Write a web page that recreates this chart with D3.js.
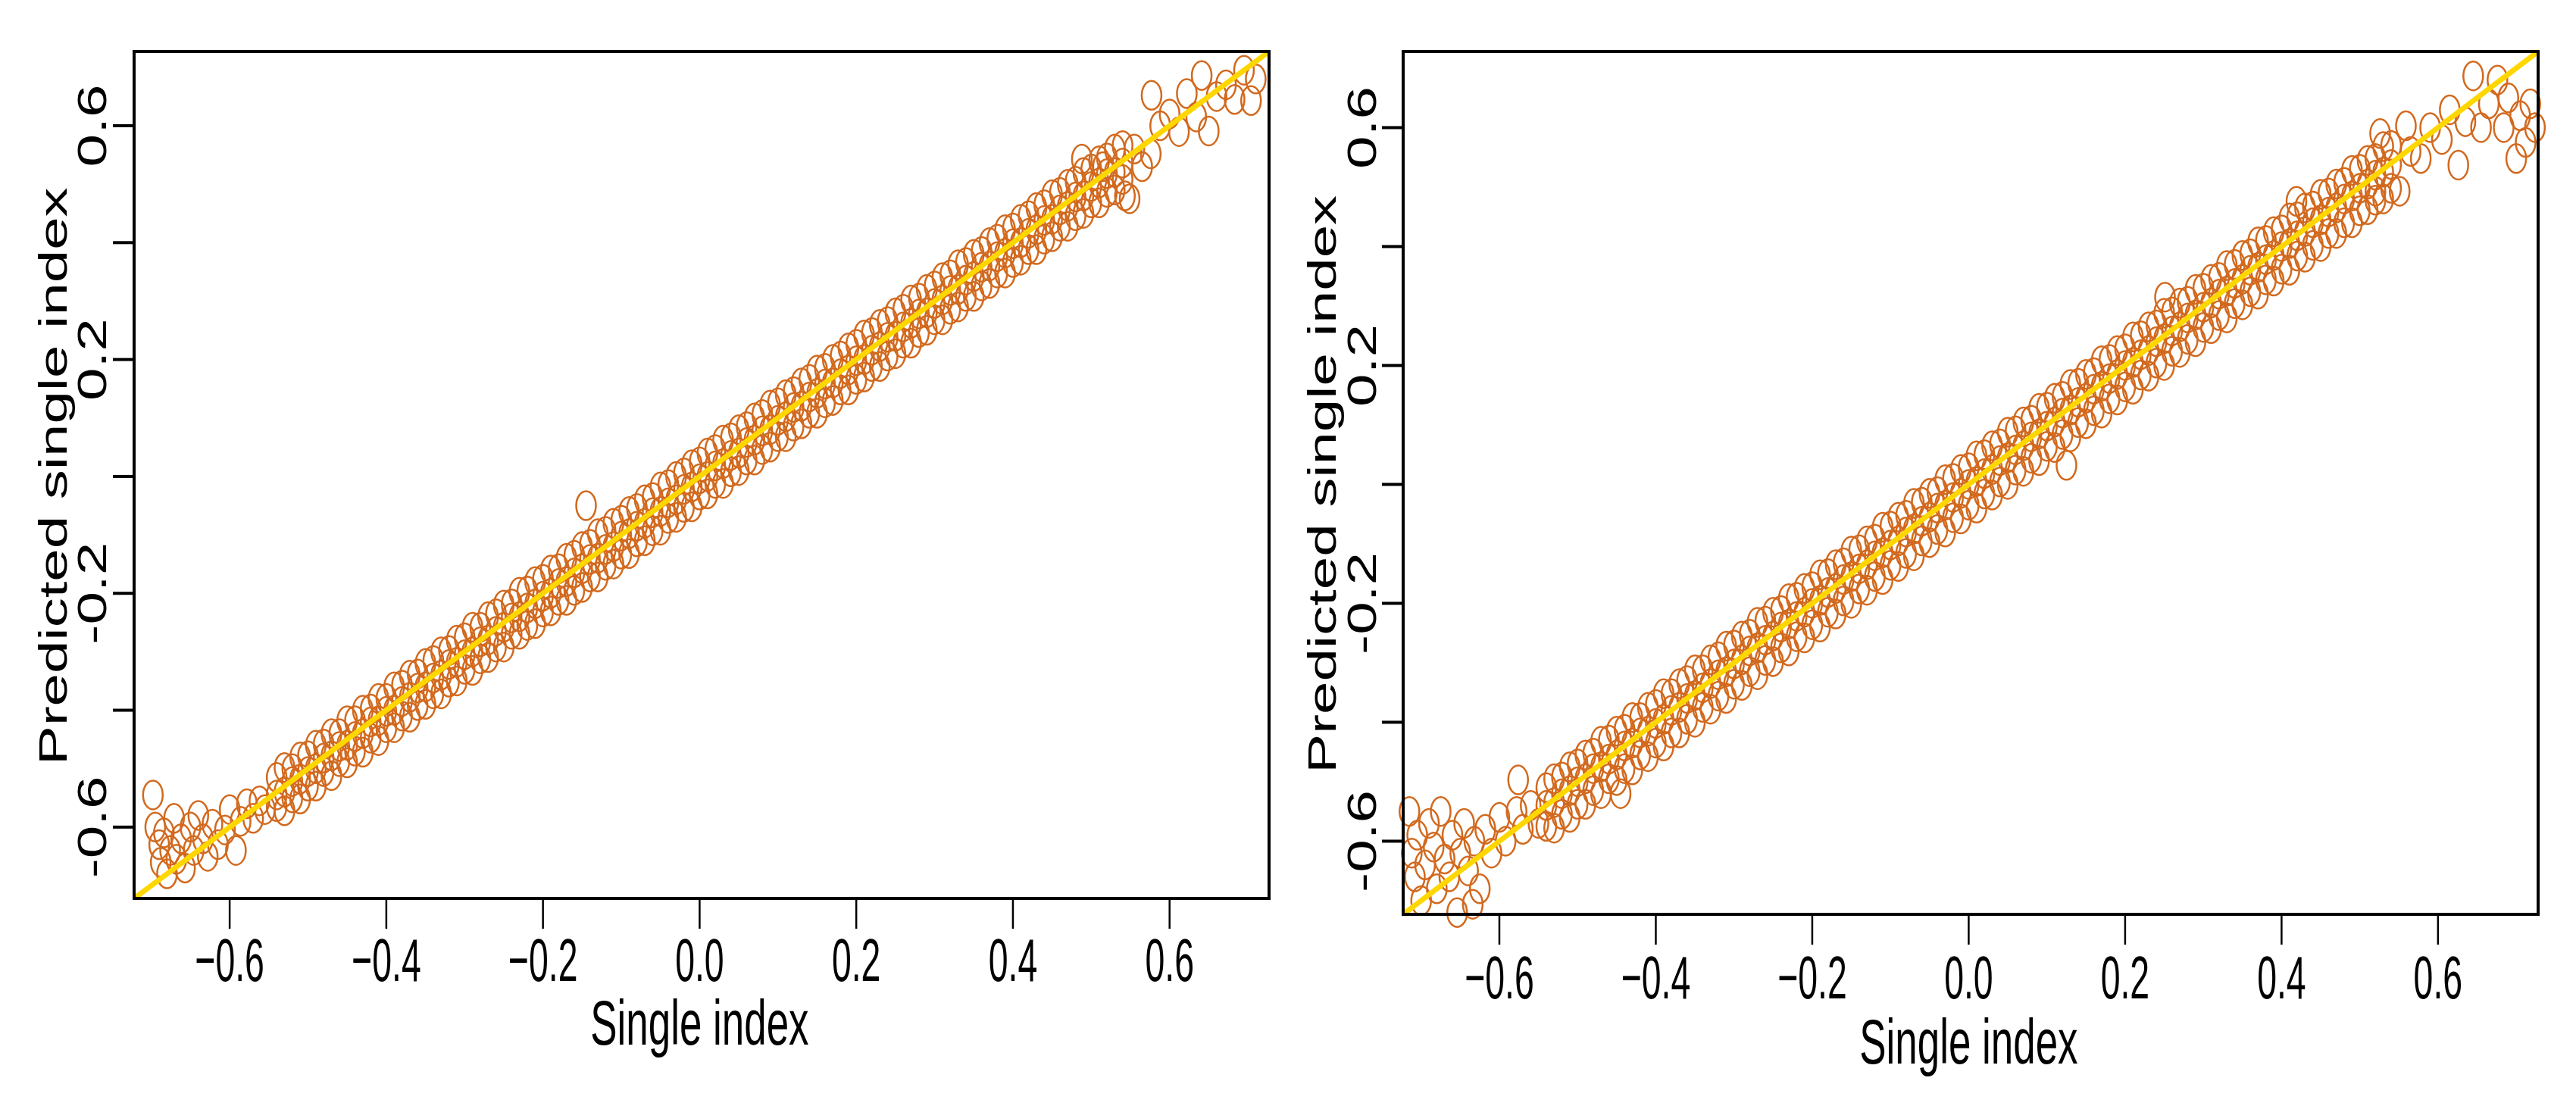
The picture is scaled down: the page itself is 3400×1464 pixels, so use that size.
<!DOCTYPE html>
<html>
<head>
<meta charset="utf-8">
<script src="https://cdnjs.cloudflare.com/ajax/libs/d3/7.8.5/d3.min.js"></script>
<style>
body { margin: 0; background: white; }
text { font-family: "Liberation Sans", Arial, sans-serif; fill: black; }
</style>
</head>
<body>
<div id="canvas"></div>
<script>
var width = 3400;
var height = 1464;

var xTicks = [-0.6, -0.4, -0.2, 0.0, 0.2, 0.4, 0.6];
var yTicks = [-0.6, -0.4, -0.2, 0.0, 0.2, 0.4, 0.6];
var yTickLabels = ['-0.6', '', '-0.2', '', '0.2', '', '0.6'];
var xLabel = 'Single index';
var yLabel = 'Predicted single index';

// middle band: [x, y1, y2, y3]
var leftBand = [
    [-0.54, -0.565, -0.545, -0.515], [-0.52, -0.550, -0.522, -0.500], [-0.50, -0.530, -0.505, -0.478],
    [-0.48, -0.505, -0.482, -0.458], [-0.46, -0.488, -0.462, -0.440], [-0.44, -0.470, -0.445, -0.418],
    [-0.42, -0.448, -0.420, -0.398], [-0.40, -0.430, -0.402, -0.380], [-0.38, -0.410, -0.385, -0.357],
    [-0.36, -0.392, -0.362, -0.338], [-0.34, -0.372, -0.345, -0.315], [-0.32, -0.352, -0.322, -0.298],
    [-0.30, -0.330, -0.305, -0.276], [-0.28, -0.312, -0.283, -0.258], [-0.26, -0.292, -0.265, -0.235],
    [-0.24, -0.270, -0.242, -0.218], [-0.22, -0.255, -0.225, -0.196], [-0.20, -0.232, -0.205, -0.176],
    [-0.18, -0.212, -0.183, -0.158], [-0.16, -0.195, -0.165, -0.135], [-0.14, -0.172, -0.142, -0.116],
    [-0.12, -0.152, -0.125, -0.094], [-0.10, -0.133, -0.102, -0.075], [-0.08, -0.112, -0.085, -0.055],
    [-0.06, -0.093, -0.062, -0.036], [-0.04, -0.072, -0.045, -0.014], [-0.02, -0.053, -0.022, 0.006],
    [0.00, -0.032, -0.004, 0.025], [0.02, -0.012, 0.018, 0.046], [0.04, 0.008, 0.036, 0.066],
    [0.06, 0.028, 0.058, 0.085], [0.08, 0.046, 0.078, 0.106], [0.10, 0.068, 0.096, 0.126],
    [0.12, 0.086, 0.118, 0.145], [0.14, 0.108, 0.136, 0.166], [0.16, 0.126, 0.158, 0.185],
    [0.18, 0.148, 0.176, 0.206], [0.20, 0.166, 0.198, 0.226], [0.22, 0.188, 0.216, 0.246],
    [0.24, 0.206, 0.238, 0.265], [0.26, 0.228, 0.256, 0.286], [0.28, 0.246, 0.278, 0.305],
    [0.30, 0.268, 0.296, 0.326], [0.32, 0.286, 0.318, 0.345], [0.34, 0.308, 0.336, 0.366],
    [0.36, 0.326, 0.358, 0.385], [0.38, 0.348, 0.376, 0.406], [0.40, 0.366, 0.398, 0.425],
    [0.42, 0.388, 0.416, 0.446], [0.44, 0.406, 0.438, 0.465], [0.46, 0.428, 0.456, 0.486],
    [0.48, 0.446, 0.478, 0.505], [0.50, 0.468, 0.496, 0.526], [0.52, 0.486, 0.518, 0.545],
    [0.54, 0.508, 0.536, 0.566]
];
var leftBand2 = [
    [-0.53, -0.572, -0.540, -0.498], [-0.51, -0.552, -0.518, -0.480], [-0.49, -0.530, -0.500, -0.460],
    [-0.47, -0.512, -0.478, -0.440], [-0.45, -0.490, -0.460, -0.418], [-0.43, -0.472, -0.440, -0.400],
    [-0.41, -0.452, -0.418, -0.380], [-0.39, -0.430, -0.400, -0.360], [-0.37, -0.412, -0.378, -0.340],
    [-0.35, -0.390, -0.360, -0.320], [-0.33, -0.372, -0.340, -0.300], [-0.31, -0.350, -0.318, -0.280],
    [-0.29, -0.332, -0.300, -0.258], [-0.27, -0.310, -0.280, -0.240], [-0.25, -0.292, -0.258, -0.220],
    [-0.23, -0.270, -0.240, -0.198], [-0.21, -0.252, -0.218, -0.180], [-0.19, -0.230, -0.200, -0.160],
    [-0.17, -0.212, -0.180, -0.140], [-0.15, -0.190, -0.158, -0.120], [-0.13, -0.172, -0.140, -0.098],
    [-0.11, -0.150, -0.120, -0.080], [-0.09, -0.132, -0.098, -0.060], [-0.07, -0.110, -0.080, -0.040],
    [-0.05, -0.092, -0.060, -0.018], [-0.03, -0.070, -0.040, 0.000], [-0.01, -0.052, -0.018, 0.020],
    [0.01, -0.030, 0.000, 0.040], [0.03, -0.012, 0.022, 0.062], [0.05, 0.010, 0.040, 0.080],
    [0.07, 0.028, 0.062, 0.100], [0.09, 0.050, 0.080, 0.122], [0.11, 0.068, 0.102, 0.140],
    [0.13, 0.090, 0.120, 0.160], [0.15, 0.108, 0.142, 0.182], [0.17, 0.130, 0.160, 0.200],
    [0.19, 0.148, 0.182, 0.220], [0.21, 0.170, 0.200, 0.242], [0.23, 0.188, 0.222, 0.260],
    [0.25, 0.210, 0.240, 0.280], [0.27, 0.228, 0.262, 0.302], [0.29, 0.250, 0.280, 0.320],
    [0.31, 0.268, 0.302, 0.340], [0.33, 0.290, 0.320, 0.362], [0.35, 0.308, 0.342, 0.380],
    [0.37, 0.330, 0.360, 0.400], [0.39, 0.348, 0.382, 0.422], [0.41, 0.370, 0.400, 0.440],
    [0.43, 0.388, 0.422, 0.460], [0.45, 0.410, 0.440, 0.482], [0.47, 0.428, 0.462, 0.500],
    [0.49, 0.450, 0.480, 0.520], [0.51, 0.468, 0.502, 0.540], [0.53, 0.490, 0.520, 0.560]
];
var leftEnds = [
    [-0.698, -0.545], [-0.695, -0.600], [-0.690, -0.630], [-0.688, -0.660], [-0.684, -0.610], [-0.680, -0.680],
    [-0.676, -0.640], [-0.671, -0.585], [-0.668, -0.655], [-0.662, -0.620], [-0.657, -0.670], [-0.650, -0.600],
    [-0.646, -0.640], [-0.640, -0.580], [-0.634, -0.620], [-0.628, -0.650], [-0.622, -0.595], [-0.615, -0.630],
    [-0.606, -0.605], [-0.600, -0.570], [-0.592, -0.640], [-0.586, -0.590], [-0.578, -0.560], [-0.570, -0.585],
    [-0.562, -0.555], [-0.555, -0.570], [-0.145, -0.050],
    [0.488, 0.543], [0.515, 0.530], [0.549, 0.475], [0.543, 0.480], [0.555, 0.560], [0.565, 0.530],
    [0.576, 0.552], [0.577, 0.652], [0.588, 0.600], [0.600, 0.620], [0.612, 0.590], [0.622, 0.655],
    [0.634, 0.615], [0.641, 0.686], [0.650, 0.591], [0.660, 0.650], [0.672, 0.670], [0.683, 0.645],
    [0.695, 0.695], [0.704, 0.643], [0.710, 0.680]
];

var rightBand = [
    [-0.54, -0.575, -0.540, -0.510], [-0.52, -0.555, -0.520, -0.492], [-0.50, -0.538, -0.500, -0.470],
    [-0.48, -0.515, -0.478, -0.452], [-0.46, -0.495, -0.462, -0.430], [-0.44, -0.478, -0.440, -0.412],
    [-0.42, -0.455, -0.418, -0.392], [-0.40, -0.435, -0.402, -0.370], [-0.38, -0.418, -0.380, -0.352],
    [-0.36, -0.395, -0.360, -0.330], [-0.34, -0.375, -0.342, -0.312], [-0.32, -0.356, -0.320, -0.290],
    [-0.30, -0.336, -0.302, -0.270], [-0.28, -0.315, -0.280, -0.252], [-0.26, -0.296, -0.262, -0.230],
    [-0.24, -0.275, -0.240, -0.212], [-0.22, -0.256, -0.222, -0.190], [-0.20, -0.236, -0.200, -0.172],
    [-0.18, -0.215, -0.182, -0.150], [-0.16, -0.196, -0.160, -0.132], [-0.14, -0.176, -0.142, -0.110],
    [-0.12, -0.155, -0.120, -0.092], [-0.10, -0.136, -0.102, -0.070], [-0.08, -0.116, -0.080, -0.052],
    [-0.06, -0.095, -0.062, -0.030], [-0.04, -0.076, -0.040, -0.012], [-0.02, -0.056, -0.022, 0.010],
    [0.00, -0.035, 0.000, 0.028], [0.02, -0.016, 0.018, 0.050], [0.04, 0.004, 0.040, 0.068],
    [0.06, 0.024, 0.058, 0.090], [0.08, 0.044, 0.080, 0.108], [0.10, 0.064, 0.098, 0.130],
    [0.12, 0.084, 0.120, 0.148], [0.14, 0.104, 0.138, 0.170], [0.16, 0.124, 0.160, 0.188],
    [0.18, 0.144, 0.178, 0.210], [0.20, 0.164, 0.200, 0.228], [0.22, 0.184, 0.218, 0.250],
    [0.24, 0.204, 0.240, 0.268], [0.26, 0.224, 0.258, 0.290], [0.28, 0.244, 0.280, 0.308],
    [0.30, 0.264, 0.298, 0.330], [0.32, 0.284, 0.320, 0.348], [0.34, 0.304, 0.338, 0.370],
    [0.36, 0.324, 0.360, 0.388], [0.38, 0.344, 0.378, 0.410], [0.40, 0.362, 0.400, 0.428],
    [0.42, 0.384, 0.418, 0.450], [0.44, 0.402, 0.440, 0.468], [0.46, 0.422, 0.458, 0.490],
    [0.48, 0.440, 0.480, 0.508], [0.50, 0.460, 0.498, 0.530], [0.52, 0.478, 0.520, 0.548],
    [0.54, 0.498, 0.538, 0.570]
];
var rightBand2 = [
    [-0.53, -0.578, -0.535, -0.495], [-0.51, -0.560, -0.515, -0.475], [-0.49, -0.538, -0.495, -0.455],
    [-0.47, -0.520, -0.475, -0.432], [-0.45, -0.498, -0.455, -0.415], [-0.43, -0.480, -0.435, -0.392],
    [-0.41, -0.458, -0.415, -0.375], [-0.39, -0.440, -0.395, -0.352], [-0.37, -0.418, -0.375, -0.335],
    [-0.35, -0.400, -0.355, -0.312], [-0.33, -0.378, -0.335, -0.295], [-0.31, -0.360, -0.315, -0.272],
    [-0.29, -0.338, -0.295, -0.255], [-0.27, -0.320, -0.275, -0.232], [-0.25, -0.298, -0.255, -0.215],
    [-0.23, -0.280, -0.235, -0.192], [-0.21, -0.258, -0.215, -0.175], [-0.19, -0.240, -0.195, -0.152],
    [-0.17, -0.218, -0.175, -0.135], [-0.15, -0.200, -0.155, -0.112], [-0.13, -0.178, -0.135, -0.095],
    [-0.11, -0.160, -0.115, -0.072], [-0.09, -0.138, -0.095, -0.055], [-0.07, -0.120, -0.075, -0.032],
    [-0.05, -0.098, -0.055, -0.015], [-0.03, -0.080, -0.035, 0.008], [-0.01, -0.058, -0.015, 0.025],
    [0.01, -0.040, 0.005, 0.048], [0.03, -0.018, 0.025, 0.065], [0.05, 0.000, 0.045, 0.088],
    [0.07, 0.022, 0.065, 0.105], [0.09, 0.040, 0.085, 0.128], [0.11, 0.062, 0.105, 0.145],
    [0.13, 0.080, 0.125, 0.168], [0.15, 0.102, 0.145, 0.185], [0.17, 0.120, 0.165, 0.208],
    [0.19, 0.142, 0.185, 0.225], [0.21, 0.160, 0.205, 0.248], [0.23, 0.182, 0.225, 0.265],
    [0.25, 0.200, 0.245, 0.288], [0.27, 0.222, 0.265, 0.305], [0.29, 0.240, 0.285, 0.328],
    [0.31, 0.262, 0.305, 0.345], [0.33, 0.280, 0.325, 0.368], [0.35, 0.302, 0.345, 0.385],
    [0.37, 0.320, 0.365, 0.408], [0.39, 0.342, 0.385, 0.425], [0.41, 0.360, 0.405, 0.448],
    [0.43, 0.382, 0.425, 0.465], [0.45, 0.400, 0.445, 0.488], [0.47, 0.422, 0.465, 0.505],
    [0.49, 0.440, 0.485, 0.528], [0.51, 0.462, 0.505, 0.545], [0.53, 0.480, 0.525, 0.568]
];
var rightEnds = [
    [-0.715, -0.550], [-0.712, -0.620], [-0.708, -0.660], [-0.705, -0.590], [-0.700, -0.700], [-0.695, -0.640],
    [-0.690, -0.570], [-0.684, -0.610], [-0.680, -0.680], [-0.675, -0.550], [-0.670, -0.630], [-0.664, -0.660],
    [-0.660, -0.590], [-0.654, -0.720], [-0.650, -0.620], [-0.645, -0.570], [-0.640, -0.650], [-0.634, -0.706],
    [-0.632, -0.600], [-0.625, -0.680], [-0.618, -0.580], [-0.610, -0.620], [-0.600, -0.560], [-0.592, -0.600],
    [-0.576, -0.497], [-0.578, -0.550], [-0.570, -0.580], [-0.560, -0.540], [-0.550, -0.570], [-0.445, -0.520],
    [0.125, 0.032], [0.251, 0.315],
    [0.419, 0.476], [0.520, 0.493], [0.526, 0.590], [0.551, 0.493], [0.559, 0.603], [0.565, 0.560],
    [0.578, 0.548], [0.590, 0.600], [0.605, 0.580], [0.615, 0.630], [0.626, 0.537], [0.635, 0.610],
    [0.645, 0.687], [0.655, 0.600], [0.665, 0.640], [0.676, 0.680], [0.684, 0.600], [0.690, 0.650],
    [0.700, 0.548], [0.705, 0.620], [0.712, 0.575], [0.718, 0.640], [0.724, 0.600]
];

var panels = [
    { left: 177, right: 1675, top: 68, bottom: 1186, domain: [-0.722, 0.727],
      bands: [leftBand, leftBand2], ends: leftEnds,
      yTickX: 121, yLabelX: 69, xTickBase: 1295, xLabelBase: 1379 },
    { left: 1852, right: 3350, top: 68, bottom: 1207, domain: [-0.723, 0.728],
      bands: [rightBand, rightBand2], ends: rightEnds,
      yTickX: 1797, yLabelX: 1744, xTickBase: 1318, xLabelBase: 1404 }
];

var svg = d3.select('#canvas').append('svg')
    .attr('width', width)
    .attr('height', height);

panels.forEach(function (p) {
    var x = d3.scaleLinear().domain(p.domain).range([p.left, p.right]);
    var y = d3.scaleLinear().domain(p.domain).range([p.bottom, p.top]);
    var g = svg.append('g');

    var points = [];
    p.bands.forEach(function (band) {
        band.forEach(function (r) {
            points.push([r[0], r[1]], [r[0], r[2]], [r[0], r[3]]);
        });
    });
    p.ends.forEach(function (d) { points.push(d); });

    g.selectAll('ellipse')
        .data(points)
        .enter().append('ellipse')
        .attr('cx', function (d) { return x(d[0]); })
        .attr('cy', function (d) { return y(d[1]); })
        .attr('rx', 13)
        .attr('ry', 19)
        .style('fill', 'none')
        .style('stroke', '#D2691E')
        .style('stroke-width', 2.5);

    g.append('line')
        .attr('x1', x(p.domain[0])).attr('y1', y(p.domain[0]))
        .attr('x2', x(p.domain[1])).attr('y2', y(p.domain[1]))
        .style('stroke', '#FFD700')
        .style('stroke-width', 7);

    g.append('rect')
        .attr('x', p.left).attr('y', p.top)
        .attr('width', p.right - p.left).attr('height', p.bottom - p.top)
        .style('fill', 'none')
        .style('stroke', 'black')
        .style('stroke-width', 4);

    // x ticks
    g.selectAll('.xt')
        .data(xTicks)
        .enter().append('line')
        .attr('x1', function (d) { return x(d); })
        .attr('x2', function (d) { return x(d); })
        .attr('y1', p.bottom)
        .attr('y2', p.bottom + 40)
        .style('stroke', 'black')
        .style('stroke-width', 2.5);
    g.selectAll('.xl')
        .data(xTicks)
        .enter().append('text')
        .attr('transform', function (d) { return 'translate(' + x(d) + ',' + p.xTickBase + ') scale(0.58,1)'; })
        .attr('text-anchor', 'middle')
        .style('font-size', '80px')
        .text(function (d) { return d3.format('.1f')(d); });

    // y ticks
    g.selectAll('.yt')
        .data(yTicks)
        .enter().append('line')
        .attr('x1', p.left - 28)
        .attr('x2', p.left)
        .attr('y1', function (d) { return y(d); })
        .attr('y2', function (d) { return y(d); })
        .style('stroke', 'black')
        .style('stroke-width', 4);
    g.selectAll('.yl')
        .data(yTicks)
        .enter().append('text')
        .attr('transform', function (d) { return 'translate(' + (p.yTickX + 19) + ',' + y(d) + ') rotate(-90) scale(1.45,1)'; })
        .attr('text-anchor', 'middle')
        .style('font-size', '54px')
        .text(function (d, i) { return yTickLabels[i]; });

    g.append('text')
        .attr('transform', 'translate(' + x(0) + ',' + p.xLabelBase + ') scale(0.63,1)')
        .attr('text-anchor', 'middle')
        .style('font-size', '84px')
        .text(xLabel);

    g.append('text')
        .attr('transform', 'translate(' + (p.yLabelX + 19) + ',' + y(0) + ') rotate(-90) scale(1.5,1)')
        .attr('text-anchor', 'middle')
        .style('font-size', '52px')
        .text(yLabel);
});
</script>
</body>
</html>
